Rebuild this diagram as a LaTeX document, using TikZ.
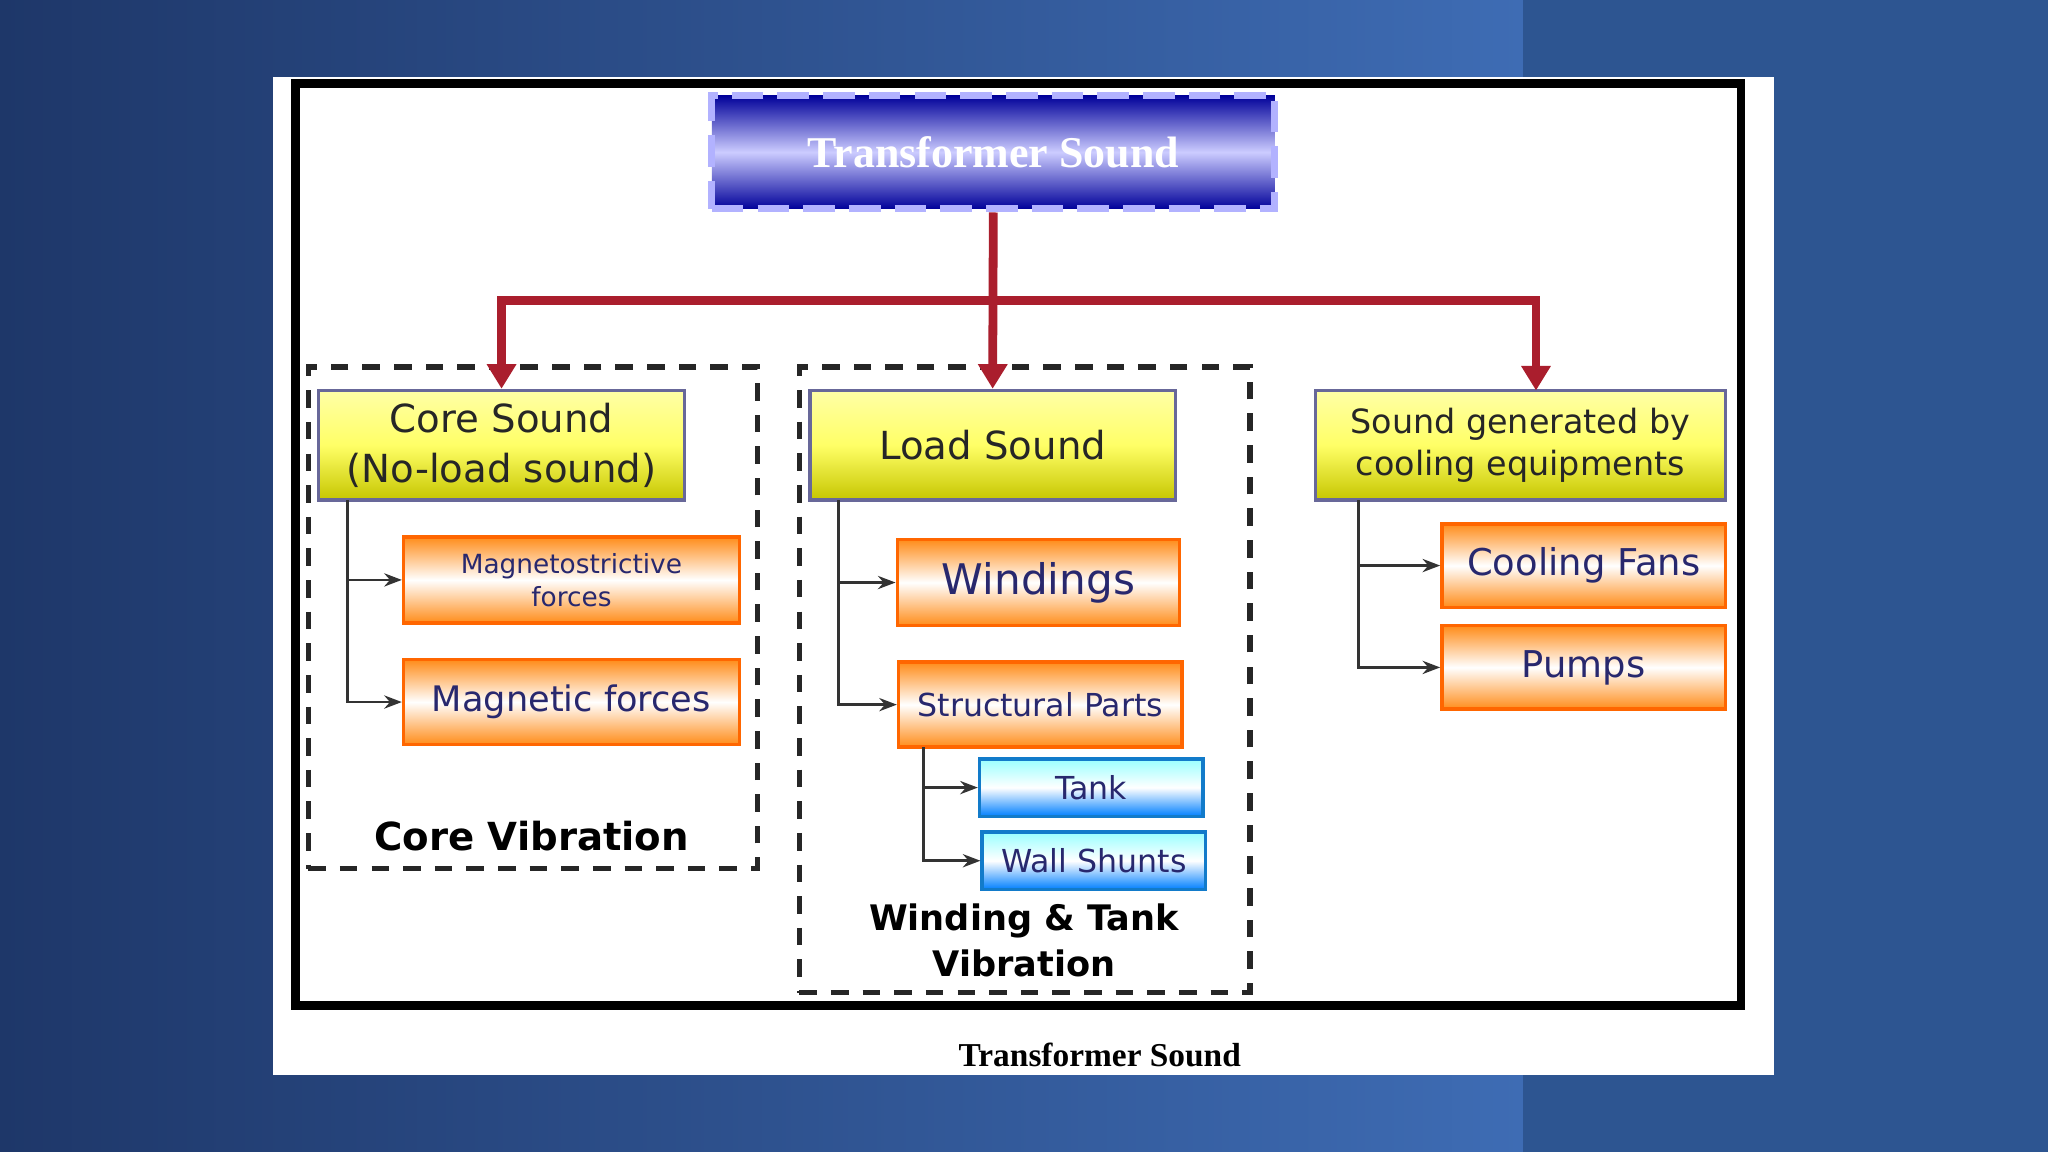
\documentclass[tikz,border=0pt]{standalone}
\usepackage{fontspec}
\setmainfont{Liberation Serif}
\newfontfamily\boxfont{DejaVu Sans}
\usetikzlibrary{fit,arrows.meta}
\definecolor{navy}{RGB}{40,40,110}
\definecolor{darkred}{RGB}{170,30,45}
\definecolor{bgleft}{RGB}{30,55,105}
\definecolor{bgright}{RGB}{62,108,180}
\definecolor{bgside}{RGB}{45,85,145}
\tikzset{
  px/.style={x=0.0130612cm,y=-0.0130612cm},
  yellowbox/.style={draw=navy!70,line width=1pt,inner sep=0pt,top color=yellow!35,bottom color=yellow!55!olive,middle color=yellow!60},
  yellowtext/.style={font=\boxfont\fontsize{11}{14}\selectfont,text=black!85,align=center},
  orangebox/.style={draw=orange!80!red,line width=1pt,inner sep=0pt,top color=orange!90,bottom color=orange!90,middle color=white},
  orangetext/.style={text=navy,font=\boxfont,align=center},
  bluebox/.style={draw=cyan!60!blue,line width=1pt,inner sep=0pt,top color=cyan!40,bottom color=cyan!50!blue,middle color=white},
  bluetext/.style={text=navy,font=\boxfont\fontsize{9}{11}\selectfont},
  group/.style={draw=black!85,line width=1.5pt,dash pattern=on 5pt off 4pt},
  feed/.style={draw=darkred,line width=2.5pt,-{Triangle[length=7pt,width=8pt]}},
  tree/.style={draw=black!80,line width=0.8pt,-{Stealth[length=5pt]}}
}
\begin{document}
\begin{tikzpicture}[px]
\useasboundingbox (0,0) rectangle (1568,882);
% background
\shade[left color=bgleft,right color=bgright] (0,0) rectangle (1166,882);
\fill[bgside] (1166,0) rectangle (1568,882);
\fill[white] (209,59) rectangle (1358,823);
\draw[line width=2.5pt] (226,64) rectangle (1333,770);
% title
\node[fit={(545,73)(976,160)},inner sep=0pt,draw=blue!30!white,line width=2pt,dash pattern=on 9pt off 4pt,top color=blue!60!black,bottom color=blue!60!black,middle color=blue!20!white,
  label={[text=white,font=\bfseries\fontsize{12.5}{15}\selectfont]center:Transformer Sound}] (title) {};
% groups
\node[group,fit={(236,281)(580,665)},inner sep=0pt] (coregrp) {};
\node[group,fit={(612,281)(957,760)},inner sep=0pt] (loadgrp) {};
% first level
\node[yellowbox,fit={(244,299)(524,383)},label={[yellowtext]center:Core Sound\\(No-load sound)}] (core) {};
\node[yellowbox,fit={(620,299)(900,383)},label={[yellowtext]center:Load Sound}] (load) {};
\node[yellowbox,fit={(1007,299)(1321,383)},label={[yellowtext,font=\boxfont\fontsize{9.5}{12}\selectfont]center:Sound generated by\\cooling equipments}] (cool) {};
% second level
\node[orangebox,fit={(309,411)(566,477)},label={[orangetext,font=\boxfont\fontsize{7.5}{9.5}\selectfont]center:Magnetostrictive\\forces}] (magstr) {};
\node[orangebox,fit={(309,505)(566,570)},label={[orangetext,font=\boxfont\fontsize{10}{12}\selectfont]center:Magnetic forces}] (magf) {};
\node[orangebox,fit={(687,413)(903,479)},label={[orangetext,font=\boxfont\fontsize{12}{14}\selectfont]center:Windings}] (wind) {};
\node[orangebox,fit={(688,507)(905,572)},label={[orangetext,font=\boxfont\fontsize{9}{11}\selectfont]center:Structural Parts}] (struct) {};
\node[orangebox,fit={(1104,401)(1321,465)},label={[orangetext,font=\boxfont\fontsize{10.5}{12}\selectfont]center:Cooling Fans}] (fans) {};
\node[orangebox,fit={(1104,479)(1321,543)},label={[orangetext,font=\boxfont\fontsize{10.5}{12}\selectfont]center:Pumps}] (pumps) {};
\node[bluebox,fit={(750,581)(921,625)},label={[bluetext]center:Tank}] (tank) {};
\node[bluebox,fit={(752,637)(923,681)},label={[bluetext]center:Wall Shunts}] (shunt) {};
% group labels
\node[font=\boxfont\bfseries\fontsize{11}{13}\selectfont] (corelbl) at (407,640) {Core Vibration};
\node[font=\boxfont\bfseries\fontsize{10}{13}\selectfont,align=center] (loadlbl) at (784,720) {Winding \& Tank\\Vibration};
\node[font=\bfseries\fontsize{9.5}{11}\selectfont] (caption) at (842,808) {Transformer Sound};
% main feeds
\coordinate (hub) at (760,230);
\coordinate (coolin) at (1176,299);
\draw[feed] (title.south) -- (load.north);
\draw[feed] (hub) -| (core.north);
\draw[feed] (hub) -| (coolin);
% trees
\coordinate (ct) at (266,383);
\draw[tree] (ct) |- (magstr.west);
\draw[tree] (ct) |- (magf.west);
\coordinate (lt) at (642,383);
\draw[tree] (lt) |- (wind.west);
\draw[tree] (lt) |- (struct.west);
\coordinate (kt) at (1040,383);
\draw[tree] (kt) |- (fans.west);
\draw[tree] (kt) |- (pumps.west);
\coordinate (st) at (707,572);
\draw[tree] (st) |- (tank.west);
\draw[tree] (st) |- (shunt.west);
\end{tikzpicture}
\end{document}
